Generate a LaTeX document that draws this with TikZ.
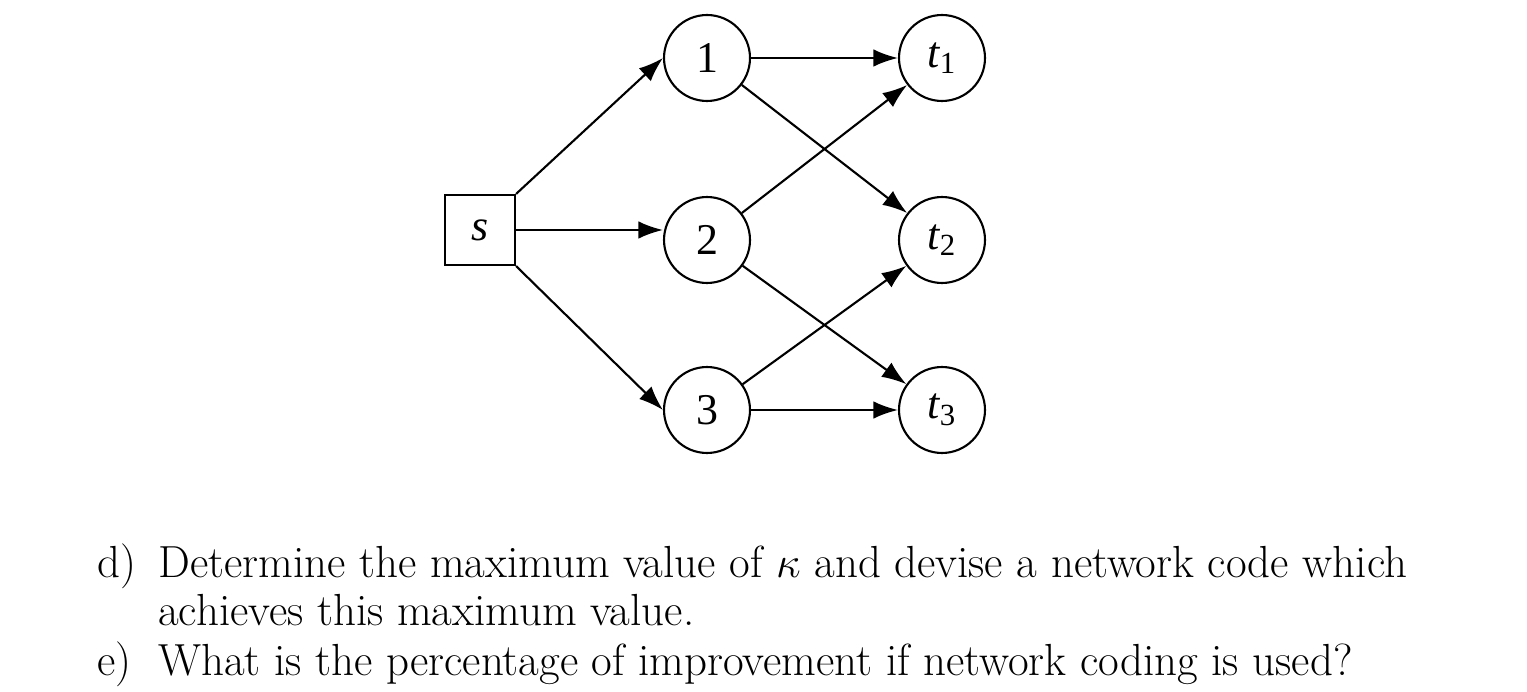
\documentclass[tikz,border=0pt]{standalone}
\usepackage{fontspec}
\newfontfamily\tms{Liberation Serif}
\usetikzlibrary{arrows.meta}
\begin{document}
\begin{tikzpicture}[x=0.02cm,y=-0.02cm,
  vert/.style={draw,circle,line width=1.2pt,minimum size=1.72cm,inner sep=0pt,font=\tms\fontsize{25}{28}\selectfont},
  src/.style={draw,rectangle,line width=1.2pt,minimum size=1.4cm,inner sep=0pt,font=\tms\itshape\fontsize{25}{28}\selectfont},
  arr/.style={line width=1.2pt,-{Latex[length=14pt,width=10pt]}},
  txt/.style={anchor=base west,inner sep=0pt,font=\fontsize{25.6}{29}\selectfont}]
\useasboundingbox (0,0) rectangle (1527,692);
\node[src] (s) at (480,230) {s};
\node[vert] (n1) at (707,58) {1};
\node[vert] (n2) at (707,240) {2};
\node[vert] (n3) at (707,410) {3};
\node[vert] (t1) at (942,58) {\itshape t\textsubscript{\upshape 1}};
\node[vert] (t2) at (942,240) {\itshape t\textsubscript{\upshape 2}};
\node[vert] (t3) at (942,410) {\itshape t\textsubscript{\upshape 3}};
\draw[arr] (s.north east) -- (n1.west);
\draw[arr] (s.east) -- (n2.west|-s.east);
\draw[arr] (s.south east) -- (n3.west);
\draw[arr] (n1) -- (t1);
\draw[arr] (n1) -- (t2);
\draw[arr] (n2) -- (t1);
\draw[arr] (n2) -- (t3);
\draw[arr] (n3) -- (t2);
\draw[arr] (n3) -- (t3);
\node[txt] (d) at (97,577) {d)};
\node[txt] (d1) at (158,577) {Determine the maximum value of $\kappa$ and devise a network code which};
\node[txt] (d2) at (158,625) {achieves this maximum value.};
\node[txt] (e) at (97,675) {e)};
\node[txt] (e1) at (158,675) {What is the percentage of improvement if network coding is used?};
\end{tikzpicture}
\end{document}
